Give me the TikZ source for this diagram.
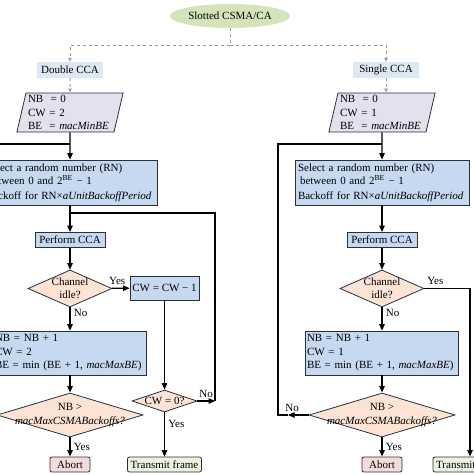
\documentclass[tikz,border=0pt]{standalone}
\usepackage{fontspec}
\setmainfont{Liberation Serif}
\usetikzlibrary{positioning, arrows.meta, shapes.geometric}
\definecolor{myLine}{HTML}{26313F}
\definecolor{myBlue}{HTML}{C6D9F1}
\definecolor{myLilac}{HTML}{E4E0EE}
\definecolor{myPeach}{HTML}{FCE3D3}
\definecolor{myPink}{HTML}{F2DCDB}
\definecolor{myGreen}{HTML}{EBF1DE}
\definecolor{myOlive}{HTML}{D5E3BA}
\definecolor{mySky}{HTML}{DDE8F5}
\definecolor{myGray}{HTML}{9A9A9A}

\begin{document}
\begin{tikzpicture}[x=1pt, y=-1pt,
  font=\fontsize{11}{13.5}\selectfont,
  procbox/.style={draw=myLine, fill=myBlue, line width=0.8pt, align=left, inner xsep=3pt, inner ysep=1pt},
  initbox/.style={trapezium, trapezium left angle=76, trapezium right angle=104, trapezium stretches body,
                  draw=myLine, fill=myLilac, line width=0.8pt, align=left, text width=84pt,
                  inner xsep=2pt, inner ysep=1pt, minimum height=39pt},
  decision/.style={diamond, draw=myLine, fill=myPeach, line width=0.8pt, inner sep=0pt},
  endbox/.style={draw=myLine, rounded corners=2pt, line width=0.8pt, minimum height=15pt, inner sep=1pt},
  mode/.style={fill=mySky, minimum width=66pt, minimum height=16pt, inner sep=1pt},
  flow/.style={line width=1.1pt, -{Triangle[length=6.5pt, width=5.5pt]}},
  plain/.style={line width=1.1pt},
  guide/.style={myGray, dashed, line width=1pt},
]
  \path[use as bounding box, clip] (0,0) rectangle (474,474);

  % start and the two variants
  \node[ellipse, fill=myOlive, minimum width=120pt, minimum height=24pt, inner sep=0pt] (title) at (230,16) {Slotted CSMA/CA};
  \coordinate (fork) at (230,45);
  \node[mode] (dblcca) at (70,70) {Double CCA};
  \node[mode] (sglcca) at (386,70) {Single CCA};

  % double CCA column
  \node[initbox] (initL) at (70,112.5) {NB~~= 0\\CW = 2\\BE~~= \textit{macMinBE}};
  \node[procbox, text width=168pt, minimum height=45pt] (selL) at (70,182.5)
    {Select a random number (RN)\\\hspace*{2pt}between 0 and 2\textsuperscript{BE} − 1\\[1pt]Backoff for RN×\textit{aUnitBackoffPeriod}};
  \node[procbox, minimum width=70pt, minimum height=15pt, align=center] (ccaL) at (70,240) {Perform CCA};
  \node[decision, minimum width=84pt, minimum height=37pt, label={[align=center]center:Channel\\idle?}] (idleL) at (70,288.5) {};
  \node[procbox, minimum width=69pt, minimum height=24pt, inner xsep=1pt, align=center] (decL) at (164.5,288) {CW = CW − 1};
  \node[procbox, text width=150pt, minimum height=44pt, inner xsep=1.5pt] (updL) at (70,353)
    {NB = NB + 1\\CW = 2\\BE = min (BE + 1, \textit{macMaxBE})};
  \node[decision, minimum width=146pt, minimum height=44pt, label={[align=center]center:NB >\\\textit{macMaxCSMABackoffs?}}] (maxL) at (70,415) {};
  \node[decision, minimum width=65pt, minimum height=22pt, label={center:{CW = 0?}}] (zeroL) at (164.5,401) {};
  \node[endbox, fill=myPink, minimum width=40pt] (abortL) at (70,464.5) {Abort};
  \node[endbox, fill=myGreen, minimum width=74pt] (sendL) at (164.5,464.5) {Transmit frame};
  \coordinate (joinL) at (70,144);
  \coordinate (noL) at (-26,415);
  \coordinate (loopL) at (-36,415);
  \coordinate (retL) at (70,213);
  \coordinate (mergeL) at (215,401);

  % single CCA column
  \node[initbox] (initR) at (382,112.5) {NB~~= 0\\CW = 1\\BE~~= \textit{macMinBE}};
  \node[procbox, text width=168pt, minimum height=45pt] (selR) at (382,182.5)
    {Select a random number (RN)\\\hspace*{2pt}between 0 and 2\textsuperscript{BE} − 1\\[1pt]Backoff for RN×\textit{aUnitBackoffPeriod}};
  \node[procbox, minimum width=70pt, minimum height=15pt, align=center] (ccaR) at (382,240) {Perform CCA};
  \node[decision, minimum width=84pt, minimum height=37pt, label={[align=center]center:Channel\\idle?}] (idleR) at (382,288.5) {};
  \node[procbox, text width=150pt, minimum height=44pt, inner xsep=1.5pt] (updR) at (382,353)
    {NB = NB + 1\\CW = 1\\BE = min (BE + 1, \textit{macMaxBE})};
  \node[decision, minimum width=146pt, minimum height=44pt, label={[align=center]center:NB >\\\textit{macMaxCSMABackoffs?}}] (maxR) at (382,415) {};
  \node[endbox, fill=myPink, minimum width=40pt] (abortR) at (382,464.5) {Abort};
  \node[endbox, fill=myGreen, minimum width=74pt] (sendR) at (470,464.5) {Transmit frame};
  \coordinate (joinR) at (382,144);
  \coordinate (noR) at (288,415);
  \coordinate (loopR) at (278,415);

  % dashed selection
  \draw[guide] (title) -- (fork);
  \draw[guide, -{Triangle[length=4pt, width=3.5pt]}] (fork) -| (dblcca);
  \draw[guide, -{Triangle[length=4pt, width=3.5pt]}] (fork) -| (sglcca);
  \draw[guide, -{Triangle[length=4pt, width=3.5pt]}] (dblcca) -- (initL);
  \draw[guide, -{Triangle[length=4pt, width=3.5pt]}] (sglcca) -- (sglcca |- initR.north);

  % left flow
  \draw[flow] (initL) -- (selL);
  \draw[flow] (selL) -- (ccaL);
  \draw[flow] (ccaL) -- (idleL);
  \draw[flow] (idleL) -- node[above, pos=0.3] {Yes} (decL);
  \draw[flow] (idleL) -- node[right, pos=0.25] {No} (updL);
  \draw[flow] (updL) -- (maxL);
  \draw[flow] (maxL) -- node[right] {Yes} (abortL);
  \draw[flow] (maxL.west) -- node[above, pos=0.8] {No} (noL);
  \draw[plain] (noL) -- (loopL) |- (joinL);
  \draw[flow] (decL) -- (zeroL);
  \draw[flow] (zeroL) -- node[right, pos=0.25] {Yes} (sendL);
  \draw[flow] (zeroL) -- node[above] {No} (mergeL);
  \draw[plain] (mergeL) |- (retL);

  % right flow
  \draw[flow] (initR) -- (selR);
  \draw[flow] (selR) -- (ccaR);
  \draw[flow] (ccaR) -- (idleR);
  \draw[flow] (idleR) -- node[right, pos=0.25] {No} (updR);
  \draw[flow] (idleR.east) -| node[above, pos=0.12] {Yes} (sendR.north);
  \draw[flow] (updR) -- (maxR);
  \draw[flow] (maxR) -- node[right] {Yes} (abortR);
  \draw[flow] (maxR.west) -- node[above, pos=0.8] {No} (noR);
  \draw[plain] (noR) -- (loopR) |- (joinR);
\end{tikzpicture}
\end{document}
